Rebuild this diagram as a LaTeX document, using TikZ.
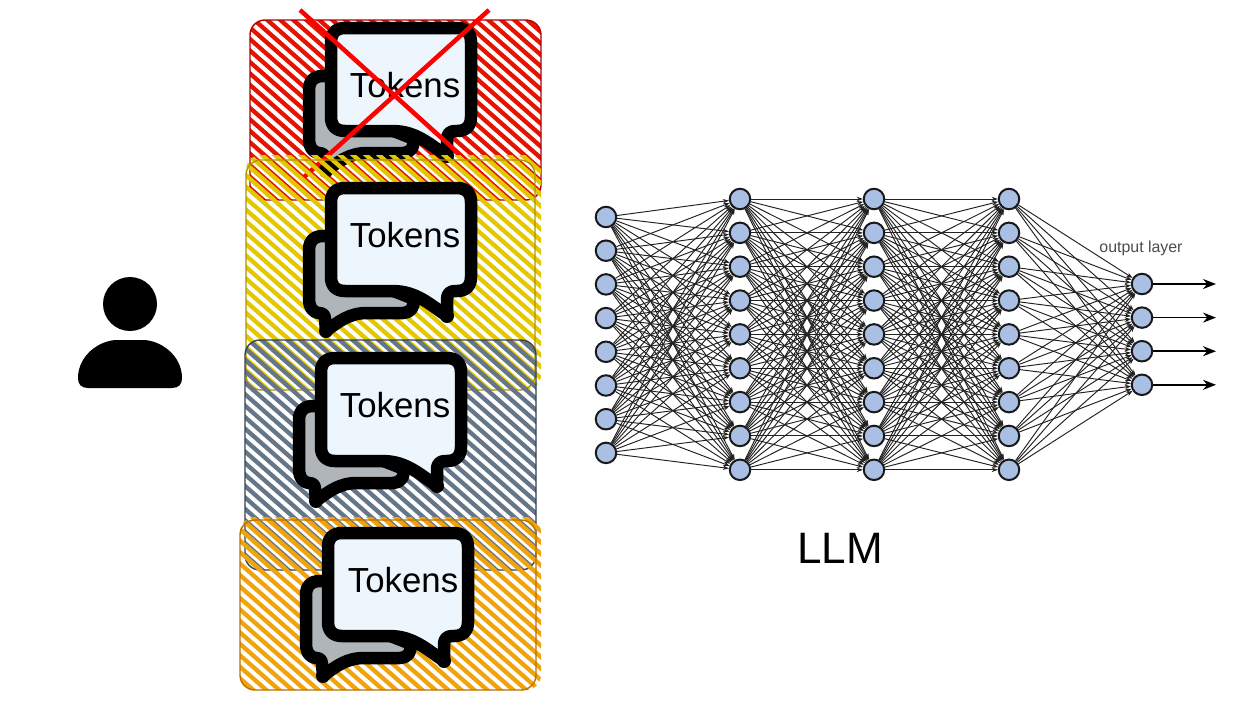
\documentclass[tikz,border=0pt]{standalone}
\usepackage{fontspec}
\setmainfont{Liberation Sans}
\usetikzlibrary{arrows.meta}
\definecolor{hred}{HTML}{E51400}\definecolor{bred}{HTML}{B20000}
\definecolor{hyel}{HTML}{E3C800}\definecolor{byel}{HTML}{B09500}
\definecolor{hgry}{HTML}{647687}\definecolor{bgry}{HTML}{314354}
\definecolor{hora}{HTML}{F0A30A}\definecolor{bora}{HTML}{BD7000}
\definecolor{bubfront}{HTML}{EEF6FD}\definecolor{bubback}{HTML}{B0B5BA}
\definecolor{nnfill}{HTML}{A9BFE3}\definecolor{nnedge}{HTML}{222222}
\tikzset{
  nn/.style={circle,draw=black!90,line width=2pt,fill=nnfill,minimum size=20.5pt,inner sep=0pt},
  nnlink/.style={draw=nnedge,line width=0.95pt,-{Stealth[length=6pt,width=4.5pt]}},
  nnout/.style={draw=black,line width=1.6pt,-{Stealth[length=13pt,width=10pt]}},
  tok/.style={anchor=base,font=\fontsize{34.8}{40}\selectfont,inner sep=0pt},
  bub/.style={draw=black,line width=12.5pt,line join=round},
  hatchline/.style={line width=4.3pt},
  cross/.style={draw=red,line width=4.5pt}
}
\newcommand{\hphase}{0}
\newcommand{\hatchbox}[8]{%
  \begin{scope}
    \clip[rounded corners=15pt] (#3,#4-#8) rectangle (#5+#7,#6);
    \foreach \t in {-280,-267,...,560}
      \draw[#1,hatchline] (#3+\t+\hphase,#4-10) -- (#3+\t+\hphase+280,#4+237);
  \end{scope}
  \draw[#2,line width=1.4pt,rounded corners=15pt] (#3,#4) rectangle (#5,#6);
}
\newcommand{\tokbubble}[2]{%
  \begin{scope}[shift={(#1,#2)}]
    % back bubble
    \path[bub,fill=bubback] (20,54) -- (-2,54) .. controls (-11,54) and (-16,59) .. (-16,68)
      -- (-16,117) .. controls (-16,126) and (-11,131) .. (-6,131)
      .. controls (-2,131) and (0,133) .. (0,137)
      -- (1,149) .. controls (14,139) and (25,131) .. (42,131)
      -- (78,131) .. controls (85,131) and (89,126) .. (89,117) -- (20,90) -- cycle;
    \fill[black] (1,149) circle[radius=7];
    % front bubble
    \path[bub,fill=bubfront] (20,6) -- (132,6) .. controls (141,6) and (146,11) .. (146,20)
      -- (146,95) .. controls (146,104) and (141,109) .. (132,109)
      -- (130,109) .. controls (125,109) and (122,112) .. (122,117)
      -- (122,134) -- (105,122) .. controls (90,112) and (80,109) .. (66,109)
      -- (20,109) .. controls (11,109) and (6,104) .. (6,95)
      -- (6,20) .. controls (6,11) and (11,6) .. (20,6) -- cycle;
    \fill[black] (122,134) circle[radius=7];
  \end{scope}
}
\begin{document}
\begin{tikzpicture}[x=1pt,y=-1pt]
\useasboundingbox (0,0) rectangle (1241,705);
\fill[white] (0,0) rectangle (1241,705);
% person
\fill[black] (130,304) circle[radius=27];
\fill[black] (88,388) -- (172,388) .. controls (179,388) and (182,384) .. (182,378)
  .. controls (182,355) and (160,340) .. (143,340) -- (117,340)
  .. controls (100,340) and (78,355) .. (78,378) .. controls (78,384) and (81,388) .. (88,388) -- cycle;
% red
\hatchbox{hred}{bred}{250}{20}{541}{200}{0}{0}
\tokbubble{325}{22}
\node[tok] (t1) at (405,97) {Tokens};
\draw[cross] (300,10) -- (488,180);
\draw[cross] (489,10) -- (303,178);
% yellow
\renewcommand{\hphase}{4.3}
\hatchbox{hyel}{byel}{246}{160}{535}{390}{6}{5}
\tokbubble{325}{182}
\node[tok] (t2) at (405,247) {Tokens};
% grey
\renewcommand{\hphase}{-0.75}
\hatchbox{hgry}{bgry}{245}{340}{536}{570}{0}{0}
\tokbubble{315}{352}
\node[tok] (t3) at (395,417) {Tokens};
% orange
\renewcommand{\hphase}{-1.76}
\hatchbox{hora}{bora}{240}{520}{536}{690}{5}{3}
\tokbubble{322}{527}
\node[tok] (t4) at (403,592) {Tokens};
% network nodes
\foreach \i in {1,...,8} {\pgfmathsetmacro\yy{217+(\i-1)*33.7}\node[nn] (a\i) at (606,\yy) {};}
\foreach \i in {1,...,9} {
  \pgfmathsetmacro\yy{199+(\i-1)*33.85}
  \node[nn] (b\i) at (740,\yy) {};
  \node[nn] (c\i) at (874,\yy) {};
  \node[nn] (d\i) at (1009,\yy) {};
}
\foreach \i in {1,...,4} {
  \pgfmathsetmacro\yy{284+(\i-1)*33.6}
  \node[nn] (e\i) at (1142,\yy) {};
  \coordinate (f\i) at (1216,\yy);
  \draw[nnout] (e\i) -- (f\i);
}
\foreach \i in {1,...,8} \foreach \j in {1,...,9} \draw[nnlink] (a\i) -- (b\j);
\foreach \i in {1,...,9} \foreach \j in {1,...,9} {
  \draw[nnlink] (b\i) -- (c\j);
  \draw[nnlink] (c\i) -- (d\j);
}
\foreach \i in {1,...,9} \foreach \j in {1,...,4} \draw[nnlink] (d\i) -- (e\j);
\node[anchor=base,font=\fontsize{15.9}{18}\selectfont,text=black!70,inner sep=0pt] (ol) at (1141,252) {output layer};
\node[anchor=base,font=\fontsize{44}{50}\selectfont,inner sep=0pt] (llm) at (840,563) {LLM};
\end{tikzpicture}
\end{document}
